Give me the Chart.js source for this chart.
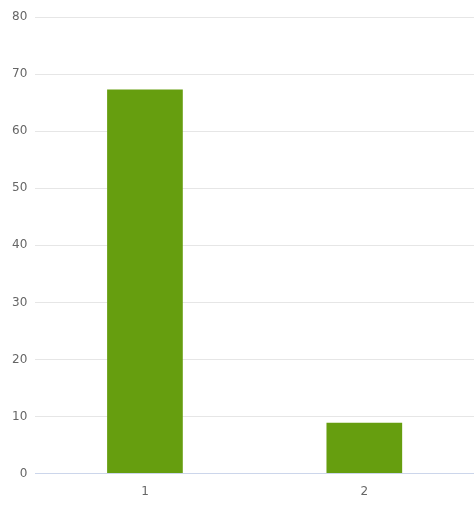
<!DOCTYPE html>
<html><head><meta charset="utf-8">
<script src="https://cdn.jsdelivr.net/npm/chart.js@4"></script>
<style>html,body{margin:0;padding:0;background:#fff}#w{width:474px;height:507px}</style>
</head><body><div id="w"><canvas id="c"></canvas></div>
<script>
const categories = ["1", "2"];
const values = [67.3, 8.9];
new Chart(document.getElementById('c'), {
  type: 'bar',
  data: { labels: categories, datasets: [{ data: values, backgroundColor: '#669e0f', categoryPercentage: 1, barPercentage: 0.345 }] },
  options: {
    responsive: true, maintainAspectRatio: false, animation: false,
    layout: { padding: { top: 17, right: 0, bottom: 5, left: 4 } },
    plugins: { legend: { display: false }, tooltip: { enabled: false } },
    scales: {
      x: { grid: { display: false }, border: { color: '#ccd6eb' }, ticks: { color: '#666', font: { family: 'DejaVu Sans', size: 12 } } },
      y: { min: 0, max: 80, ticks: { stepSize: 10, color: '#666', padding: 8, font: { family: 'DejaVu Sans', size: 12 } }, grid: { color: '#e6e6e6', drawTicks: false }, border: { display: false } }
    }
  }
});
</script></body></html>
